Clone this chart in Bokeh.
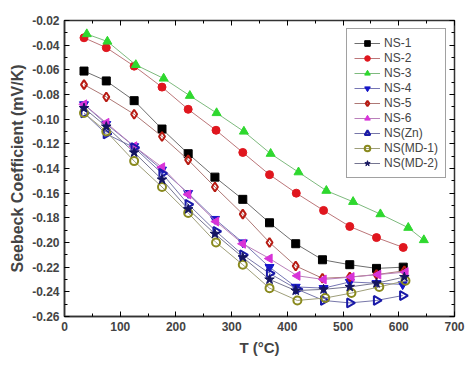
import numpy as np
from bokeh.plotting import figure
from bokeh.models import SingleIntervalTicker, LinearAxis, Range1d, PrintfTickFormatter, Legend, LegendItem
from bokeh.embed import file_html
from bokeh.resources import INLINE

# ---- data ----
T_common = [35, 75, 125, 175, 222, 270, 320, 368, 415, 463, 512, 560, 608]
ns1 = [-0.061, -0.069, -0.085, -0.108, -0.128, -0.147, -0.165, -0.184, -0.201, -0.214, -0.218, -0.221, -0.220]
T_ns2 = [35, 75, 125, 175, 222, 272, 320, 368, 416, 465, 512, 560, 608]
ns2 = [-0.034, -0.042, -0.057, -0.074, -0.092, -0.109, -0.127, -0.145, -0.160, -0.174, -0.187, -0.196, -0.204]
T_ns3 = [40, 77, 128, 178, 225, 273, 322, 370, 420, 470, 518, 567, 617, 645]
ns3 = [-0.031, -0.037, -0.056, -0.067, -0.081, -0.095, -0.110, -0.128, -0.143, -0.158, -0.167, -0.177, -0.188, -0.198]
T_ns4 = [35, 75, 125, 175, 222, 270, 320, 368, 415, 465, 512, 560, 607]
ns4 = [-0.088, -0.104, -0.122, -0.141, -0.160, -0.181, -0.200, -0.220, -0.236, -0.237, -0.232, -0.233, -0.234]
T_ns5 = [35, 75, 125, 175, 222, 270, 320, 368, 415, 463, 512, 560, 610]
ns5 = [-0.072, -0.082, -0.096, -0.114, -0.133, -0.155, -0.177, -0.200, -0.219, -0.229, -0.228, -0.226, -0.223]
T_ns6 = [35, 75, 125, 175, 222, 272, 320, 368, 418, 465, 515, 563, 612]
ns6 = [-0.088, -0.103, -0.122, -0.139, -0.161, -0.183, -0.201, -0.213, -0.227, -0.230, -0.228, -0.226, -0.224]
T_zn = [35, 75, 125, 175, 222, 272, 320, 368, 418, 465, 512, 560, 607]
nszn = [-0.095, -0.112, -0.123, -0.144, -0.169, -0.191, -0.210, -0.225, -0.238, -0.247, -0.249, -0.247, -0.243]
T_md1 = [35, 75, 125, 175, 222, 272, 320, 368, 418, 468, 515, 565, 612]
md1 = [-0.095, -0.110, -0.134, -0.155, -0.176, -0.200, -0.218, -0.237, -0.247, -0.245, -0.241, -0.236, -0.231]
T_md2 = [35, 75, 125, 175, 222, 270, 320, 368, 415, 465, 512, 560, 610]
md2 = [-0.091, -0.106, -0.127, -0.149, -0.173, -0.193, -0.212, -0.230, -0.239, -0.238, -0.236, -0.233, -0.228]

labels = ["NS-1", "NS-2", "NS-3", "NS-4", "NS-5", "NS-6", "NS(Zn)", "NS(MD-1)", "NS(MD-2)"]
xs = [T_common, T_ns2, T_ns3, T_ns4, T_ns5, T_ns6, T_zn, T_md1, T_md2]
ys = [ns1, ns2, ns3, ns4, ns5, ns6, nszn, md1, md2]

# ---- styles ----
colors = ["#000000", "#e0161e", "#2ed82e", "#1616c8", "#b81c14", "#d833d8", "#1a1aa8", "#8a8a1e", "#141460"]
markers = ["square", "circle", "triangle", "inverted_triangle", "diamond", "triangle", "triangle", "circle", "star"]
angles = [0, 0, 0, 0, 0, np.pi / 2, -np.pi / 2, 0, 0]
filled = [True, True, True, True, False, True, False, False, True]
sizes = [8, 8, 9, 9, 9, 9, 9, 8, 10]


def blend(c, g=0.65):
    r, gg, b = int(c[1:3], 16), int(c[3:5], 16), int(c[5:7], 16)
    base = 170
    return "#%02x%02x%02x" % tuple(int(v * (1 - g) + base * g) for v in (r, gg, b))


p = figure(width=466, height=358, output_backend="svg", toolbar_location=None,
           x_range=Range1d(0, 700), y_range=Range1d(-0.26, -0.02),
           min_border_left=64, min_border_top=20, min_border_right=12, min_border_bottom=41)
p.xgrid.visible = False
p.ygrid.visible = False
p.outline_line_color = "#333333"
p.outline_line_width = 1.5

legend = Legend(location="top_right", margin=8, padding=7, spacing=1,
                label_text_font="Liberation Sans", label_text_font_size="12px",
                glyph_width=26, glyph_height=14, label_height=14,
                border_line_color="#444444", border_line_width=1, label_standoff=4)
p.add_layout(legend, "center")

for i in range(len(labels)):
    lr = p.line(xs[i], ys[i], line_color=blend(colors[i]), line_width=1)
    sr = p.scatter(xs[i], ys[i], marker=markers[i], size=sizes[i], angle=angles[i],
                   line_color=colors[i], line_width=2 if not filled[i] else 1,
                   fill_color=colors[i] if filled[i] else "white",
                   fill_alpha=1.0 if filled[i] else 0.0)
    legend.items.append(LegendItem(label=labels[i], renderers=[lr, sr]))

font = "Liberation Sans"
for ax in [p.xaxis[0], p.yaxis[0]]:
    ax.major_tick_in = 5
    ax.major_tick_out = 0
    ax.minor_tick_in = 3
    ax.minor_tick_out = 0
    ax.major_label_text_font = font
    ax.major_label_text_font_style = "bold"
    ax.major_label_text_font_size = "12px"
    ax.axis_label_text_font = font
    ax.axis_label_text_font_style = "bold"
    ax.axis_label_text_font_size = "15px"
    ax.axis_line_width = 1.5
    ax.axis_line_color = "#333333"

p.yaxis[0].axis_label_text_font_size = "16px"
p.xaxis[0].ticker = SingleIntervalTicker(interval=100, num_minor_ticks=2)
p.yaxis[0].ticker = SingleIntervalTicker(interval=0.02, num_minor_ticks=2)
p.yaxis[0].formatter = PrintfTickFormatter(format="%.2f")
p.xaxis[0].axis_label = "T (\u00b0C)"
p.yaxis[0].axis_label = "Seebeck Coefficient (mV/K)"
p.xaxis[0].major_label_standoff = 5
p.yaxis[0].major_label_standoff = 5
p.xaxis[0].axis_label_standoff = 5
p.yaxis[0].axis_label_standoff = 3

top = LinearAxis(ticker=SingleIntervalTicker(interval=100, num_minor_ticks=2),
                 major_label_text_font_size="0px", major_tick_in=5, major_tick_out=0,
                 minor_tick_in=3, minor_tick_out=0, axis_line_color=None)
right = LinearAxis(ticker=SingleIntervalTicker(interval=0.02, num_minor_ticks=2),
                   major_label_text_font_size="0px", major_tick_in=5, major_tick_out=0,
                   minor_tick_in=3, minor_tick_out=0, axis_line_color=None)
p.add_layout(top, "above")
p.add_layout(right, "right")

open("out.html", "w").write(file_html(p, INLINE))
